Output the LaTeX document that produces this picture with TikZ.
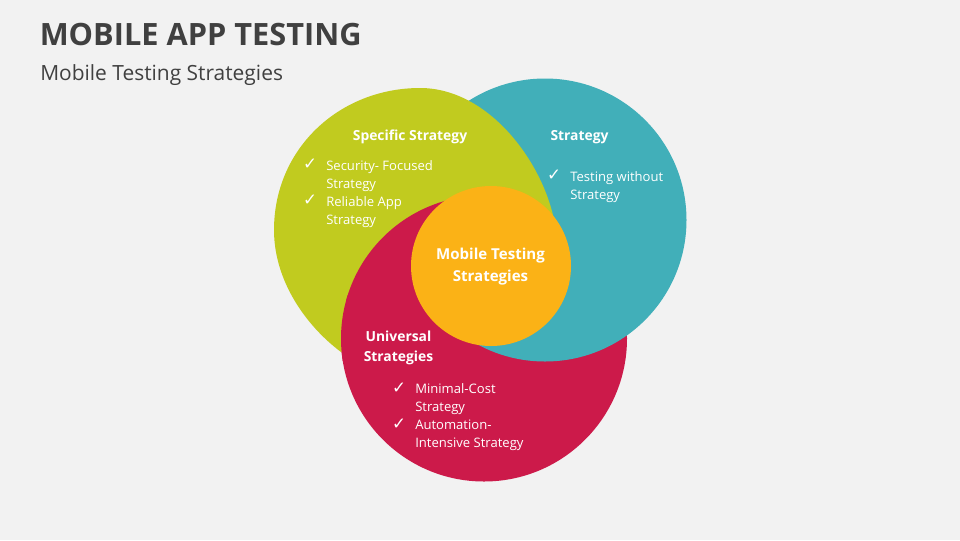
\documentclass[tikz,border=0pt]{standalone}
\usepackage{fontspec}
\setmainfont{Open Sans}
\newfontfamily\chk{DejaVu Sans}
\definecolor{bgc}{HTML}{F2F2F2}
\definecolor{ink}{HTML}{404040}
\definecolor{lime}{HTML}{C1CB1F}
\definecolor{teal}{HTML}{41AFB9}
\definecolor{crim}{HTML}{CC1A4A}
\definecolor{amber}{HTML}{FBB216}
\tikzset{
  x=0.75pt,y=-0.75pt,
  head/.style={text=white,font=\bfseries\fontsize{10.4}{15}\selectfont,inner sep=0pt,align=center},
  item/.style={text=white,font=\fontsize{9.8}{13.5}\selectfont,inner sep=0pt,anchor=north west,align=left},
  tick/.style={text=white,font=\chk\bfseries\fontsize{12.5}{14}\selectfont,inner sep=0pt},
}
\def\limeshape{(274,230) .. controls (274,148) and (340,88) .. (420,88) .. controls (490,88) and (545,165) .. (555,225) -- (480,300) -- (341,352) .. controls (305,325) and (274,280) .. (274,230) -- cycle}
\begin{document}
\begin{tikzpicture}
\useasboundingbox (0,0) rectangle (960,540);
\fill[bgc] (0,0) rectangle (960,540);
\fill[crim] (484,338.5) circle[radius=143*0.75pt];
\fill[teal] (545,220) circle[radius=141.5*0.75pt];
\fill[lime] \limeshape;
\begin{scope}
\clip (0,0) rectangle (500,540);
\clip (484,338.5) circle[radius=143*0.75pt];
\fill[crim] (300,190) rectangle (500,300);
\fill[crim] (300,295) -- (440,295) -- (440,330) -- (300,375) -- cycle;
\end{scope}
\fill[amber] (491,266) circle[radius=80*0.75pt];
\node[anchor=west,inner sep=0pt,text=ink,font=\bfseries\fontsize{23.05}{28}\selectfont] (title) at (39.5,34.5) {MOBILE APP TESTING};
\node[anchor=west,inner sep=0pt,text=ink,font=\fontsize{15.7}{18}\selectfont] (sub) at (40,75) {Mobile Testing Strategies};
\node[head] (h1) at (410,137) {Specific Strategy};
\node[tick] (t1) at (310,164) {✓};
\node[item] (i1) at (326,160) {Security- Focused\\Strategy};
\node[tick] (t2) at (310,200) {✓};
\node[item] (i2) at (326,196) {Reliable App\\Strategy};
\node[head] (h2) at (579.5,137) {Strategy};
\node[tick] (t3) at (554,175) {✓};
\node[item] (i3) at (570,171) {Testing without\\Strategy};
\node[head,font=\bfseries\fontsize{11.3}{16}\selectfont] (h3) at (490.5,266.5) {Mobile Testing\\Strategies};
\node[head] (h4) at (398.5,347.5) {Universal\\Strategies};
\node[tick] (t4) at (399,388) {✓};
\node[item] (i4) at (415,383.5) {Minimal-Cost\\Strategy};
\node[tick] (t5) at (399,424) {✓};
\node[item] (i5) at (415,419.5) {Automation-\\Intensive Strategy};
\end{tikzpicture}
\end{document}
